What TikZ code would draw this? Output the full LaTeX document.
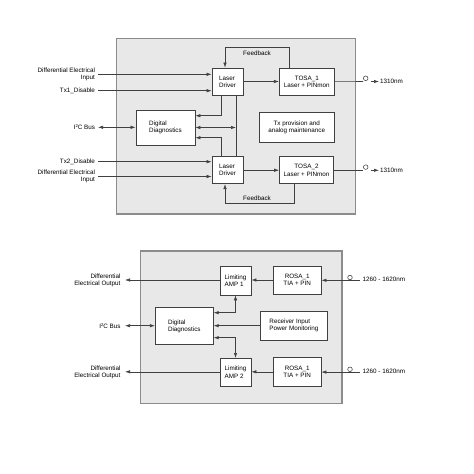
\documentclass[tikz,border=0pt]{standalone}
\usepackage{fontspec}
\setmainfont{Liberation Sans}
\usetikzlibrary{arrows.meta,positioning,calc}

\newcommand{\sqtwo}{\raisebox{1.9pt}{\fontsize{4.2}{4}\selectfont 2}}

\begin{document}
\begin{tikzpicture}[
    x=1pt, y=-1pt,
    font=\fontsize{6.3}{7.2}\selectfont,
    >={Latex[length=5pt,width=3.4pt]},
    panel/.style={rectangle, draw=black!45, line width=1.2pt, fill=black!9},
    base/.style={rectangle, draw=black!75, line width=0.7pt, fill=white, inner sep=0pt},
    blk/.style={base, align=center},
    lblk/.style={base, align=left},
    lbl/.style={inner sep=0pt, outer sep=3pt, align=right, anchor=east},
    nm/.style={inner sep=0pt, outer sep=1pt, anchor=west},
    sig/.style={black!75, line width=0.6pt},
    port/.style={circle, draw=black!75, line width=0.55pt, inner sep=0pt, minimum size=4.6pt}
  ]

  \useasboundingbox (0,0) rectangle (474,474);

  % transmitter
  \node (txpanel)  [panel, minimum width=239pt, minimum height=175.7pt] at (236.2,126.2) {};

  \node (ld1)      [lblk, minimum width=31pt, minimum height=27pt]   at (227.5,81.5)  {Laser\\Driver};
  \node (ld2)      [lblk, minimum width=31pt, minimum height=27pt]   at (227.5,170.2) {Laser\\Driver};
  \node (dd1)      [lblk, minimum width=59pt, minimum height=35pt]   at (165.5,127.5) {Digital\\Diagnostics};
  \node (tosa1)    [blk, minimum width=55pt, minimum height=27pt]    at (306.8,81.7)  {TOSA\_1\\Laser + PINmon};
  \node (tosa2)    [blk, minimum width=54pt, minimum height=27pt]    at (306.5,170.3) {TOSA\_2\\Laser + PINmon};
  \node (txprov)   [blk, minimum width=75pt, minimum height=30pt]    at (296.7,127.3) {Tx provision and\\analog maintenance};

  \node (dei1)     [lbl] at (98,74.3)  {Differential Electrical\\Input};
  \node (txdis1)   [lbl] at (98,90.7)  {Tx1\_Disable};
  \node (i2c1)     [lbl] at (98,127.3) {I\sqtwo C Bus};
  \node (txdis2)   [lbl] at (98,161.7) {Tx2\_Disable};
  \node (dei2)     [lbl] at (98,176.5) {Differential Electrical\\Input};

  \coordinate (fb1) at (257,47.7);
  \coordinate (fb2) at (257,203.3);
  \node (fbtxt1)   [below=2.6pt of fb1, inner sep=0pt] {Feedback};
  \node (fbtxt2)   [above=2.2pt of fb2, inner sep=0pt] {Feedback};

  \coordinate (o1)  at (363,81.5);
  \coordinate (o1a) at (371,81.5);
  \coordinate (o2)  at (363,170.3);
  \coordinate (o2a) at (371,170.3);
  \node (p1)       [port] at (365.7,78.3) {};
  \node (p2)       [port] at (365.7,167.1) {};
  \node (nm1)      [nm] at (379,81.5)  {1310nm};
  \node (nm2)      [nm] at (379,170.3) {1310nm};

  \coordinate (ldbus) at ($([xshift=8.5pt]ld1.south)!0.5!([xshift=8.5pt]ld2.north)$);

  \draw[->,sig]  (dei1.east)   -- (dei1.east -| ld1.west);
  \draw[->,sig]  (txdis1.east) -- (txdis1.east -| ld1.west);
  \draw[->,sig]  (txdis2.east) -- (txdis2.east -| ld2.west);
  \draw[->,sig]  (dei2.east)   -- (dei2.east -| ld2.west);
  \draw[<->,sig] (i2c1.east)   -- (i2c1.east -| dd1.west);

  \draw[->,sig]  (ld1.east)    -- (ld1.east -| tosa1.west);
  \draw[->,sig]  (ld2.east)    -- (ld2.east -| tosa2.west);

  \draw[->,sig]  ([xshift=-17.5pt]tosa1.north) |- (fb1) -| ([xshift=-2.5pt]ld1.north);
  \draw[->,sig]  ([xshift=-12.5pt]tosa2.south) |- (fb2) -| ([xshift=-2.5pt]ld2.south);

  \draw[->,sig]  ([xshift=-6.5pt]ld1.south) |- ([yshift=11.8pt]dd1.east);
  \draw[->,sig]  ([xshift=-6.5pt]ld2.north) |- ([yshift=-10.2pt]dd1.east);
  \draw[sig]     ([xshift=8.5pt]ld1.south)  -- ([xshift=8.5pt]ld2.north);
  \draw[<->,sig] (dd1.east) -- (dd1.east -| ldbus);

  \draw[sig]     (tosa1.east) -- (o1);
  \draw[sig]     (tosa2.east) -- (o2);
  \draw[->,sig]  (o1a) -- (nm1.west);
  \draw[->,sig]  (o2a) -- (nm2.west);

  % receiver
  \node (rxpanel)  [panel, minimum width=201.3pt, minimum height=152.7pt] at (241.4,327.4) {};

  \node (amp1)     [lblk, minimum width=31pt, minimum height=28.3pt]   at (235.5,280.8) {Limiting\\AMP 1};
  \node (amp2)     [lblk, minimum width=31pt, minimum height=27.7pt]   at (235.5,372.2) {Limiting\\AMP 2};
  \node (rosa1)    [blk, minimum width=47.7pt, minimum height=28pt]    at (297.2,280)   {ROSA\_1\\TIA + PIN};
  \node (rosa2)    [blk, minimum width=47.7pt, minimum height=28.3pt]  at (297.2,371.8) {ROSA\_1\\TIA + PIN};
  \node (ripm)     [lblk, minimum width=66.7pt, minimum height=28.7pt] at (294,325.7)   {Receiver Input\\Power Monitoring};
  \node (dd2)      [lblk, minimum width=58pt, minimum height=36.7pt]   at (184.3,326)   {Digital\\Diagnostics};

  \node (deo1)     [lbl, outer sep=4.5pt] at (125,280.3) {Differential\\Electrical Output};
  \node (i2c2)     [lbl, outer sep=4.5pt] at (125,325.7) {I\sqtwo C Bus};
  \node (deo2)     [lbl, outer sep=4.5pt] at (125,372.3) {Differential\\Electrical Output};

  \coordinate (in1) at (360,280.3);
  \coordinate (in2) at (360,372.1);
  \node (p3)       [port] at (350,277.5) {};
  \node (p4)       [port] at (350,369.3) {};
  \node (nm3)      [nm] at (361.7,279.7) {1260 - 1620nm};
  \node (nm4)      [nm] at (361.7,371.5) {1260 - 1620nm};

  \draw[->,sig]  (in1) -- (in1 -| rosa1.east);
  \draw[->,sig]  (in2) -- (in2 -| rosa2.east);
  \draw[->,sig]  (rosa1.west) -- (rosa1.west -| amp1.east);
  \draw[->,sig]  (rosa2.west) -- (rosa2.west -| amp2.east);
  \draw[->,sig]  (amp1.west |- rosa1.west) -- (rosa1.west -| deo1.east);
  \draw[->,sig]  (amp2.west |- rosa2.west) -- (rosa2.west -| deo2.east);
  \draw[<->,sig] (i2c2.east) -- (i2c2.east -| dd2.west);

  \draw[<->,sig] ([yshift=13.3pt]dd2.east)  -| (amp1.south);
  \draw[<->,sig] ([yshift=-11.7pt]dd2.east) -| (amp2.north);
  \draw[->,sig]  (ripm.west) -- (ripm.west -| dd2.east);
\end{tikzpicture}
\end{document}
